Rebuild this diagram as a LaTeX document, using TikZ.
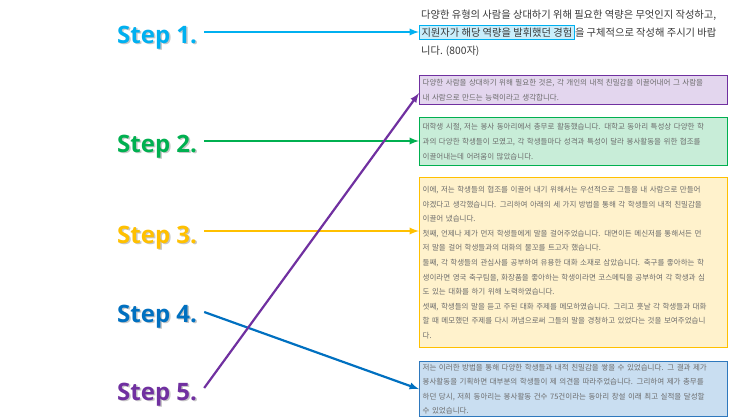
\documentclass[tikz,border=0pt]{standalone}
\usepackage{fontspec}
\usepackage{tikz}
\usetikzlibrary{arrows,calc}
\newfontfamily\krfont{Noto Sans CJK KR}
\newfontfamily\stepfont{Open Sans}
\definecolor{stepcyan}{HTML}{00B0F0}
\definecolor{stepgreen}{HTML}{00B050}
\definecolor{stepgold}{HTML}{FFC000}
\definecolor{stepblue}{HTML}{0070C0}
\definecolor{steppurple}{HTML}{7030A0}
\definecolor{cyanfill}{HTML}{C9EEFB}
\definecolor{purplefill}{HTML}{E3D6EE}
\definecolor{greenfill}{HTML}{C8EDD8}
\definecolor{goldfill}{HTML}{FFF2CC}
\definecolor{bluefill}{HTML}{C9DEF1}
\definecolor{blueline}{HTML}{2E78BD}
\newcommand{\shadowed}[2]{\rlap{\hspace{1.5pt}\raisebox{-1.5pt}{\color{black!22}#2}}{\color{#1}#2}}
\newcommand{\fullline}[1]{\noindent\hbox to \hsize{#1}\par}
\newcommand{\lastline}[1]{\noindent#1\par}
\newlength\linewd
\settowidth{\linewd}{\krfont\fontsize{10}{12}\selectfont 다양한 유형의 사람을 상대하기 위해 필요한 역량은 무엇인지 작성하고,}
\pgfmathsetmacro\qsize{10*295/\linewd}

\begin{document}
\begin{tikzpicture}[x=1pt, y=-1pt,
  steplabel/.style = {anchor=base west, inner sep=0pt, font=\stepfont\bfseries\fontsize{24}{24}\selectfont},
  steparrow/.style = {-latex, line width=2.2pt},
  qtext/.style = {anchor=base west, inner sep=0pt, text=black!78, font=\krfont\fontsize{\qsize}{12}\selectfont},
  ansbox/.style = {draw, line width=1.3pt, anchor=north west, text width=302pt, inner xsep=3pt, inner ysep=0pt, align=left, text=black!58, font=\krfont\fontsize{7.5}{14.6}\selectfont}]
\useasboundingbox (0,0) rectangle (743,418);

\node[qtext] (qa) at (421,18) {다양한 유형의 사람을 상대하기 위해 필요한 역량은 무엇인지 작성하고,};
\node[qtext, draw=stepcyan, fill=cyanfill, line width=1pt, inner xsep=2pt, inner ysep=1.5pt, text height=9.5pt, text depth=2pt] (hl) at (419,36) {지원자가 해당 역량을 발휘했던 경험};
\node[qtext] (qb) at (hl.base east) {을 구체적으로 작성해 주시기 바랍};
\node[qtext] (qc) at (421,54) {니다. (800자)};

\node[ansbox, draw=steppurple, fill=purplefill, minimum height=29pt] (a1) at (419,75) {%
\fullline{다양한 사람을 상대하기 위해 필요한 것은, 각 개인의 내적 친밀감을 이끌어내어 그 사람을}
\lastline{내 사람으로 만드는 능력이라고 생각합니다.}};
\node[ansbox, draw=stepgreen, fill=greenfill, minimum height=48pt] (a2) at (419,117) {%
\fullline{대학생 시절, 저는 봉사 동아리에서 총무로 활동했습니다. 대학교 동아리 특성상 다양한 학}
\fullline{과의 다양한 학생들이 모였고, 각 학생들마다 성격과 특성이 달라 봉사활동을 위한 협조를}
\lastline{이끌어내는데 어려움이 많았습니다.}};
\node[ansbox, draw=stepgold, fill=goldfill, minimum height=170pt] (a3) at (419,177) {%
\fullline{이에, 저는 학생들의 협조를 이끌어 내기 위해서는 우선적으로 그들을 내 사람으로 만들어}
\fullline{야겠다고 생각했습니다. 그리하여 아래의 세 가지 방법을 통해 각 학생들의 내적 친밀감을}
\lastline{이끌어 냈습니다.}
\fullline{첫째, 언제나 제가 먼저 학생들에게 말을 걸어주었습니다. 대면이든 메신저를 통해서든 먼}
\lastline{저 말을 걸어 학생들과의 대화의 물꼬를 트고자 했습니다.}
\fullline{둘째, 각 학생들의 관심사를 공부하여 유용한 대화 소재로 삼았습니다. 축구를 좋아하는 학}
\fullline{생이라면 영국 축구팀을, 화장품을 좋아하는 학생이라면 코스메틱을 공부하여 각 학생과 심}
\lastline{도 있는 대화를 하기 위해 노력하였습니다.}
\fullline{셋째, 학생들의 말을 듣고 주된 대화 주제를 메모하였습니다. 그리고 훗날 각 학생들과 대화}
\fullline{할 때 메모했던 주제를 다시 꺼냄으로써 그들의 말을 경청하고 있었다는 것을 보여주었습니}
\lastline{다.}};
\node[ansbox, draw=blueline, fill=bluefill, minimum height=55pt] (a4) at (419,361) {%
\fullline{저는 이러한 방법을 통해 다양한 학생들과 내적 친밀감을 쌓을 수 있었습니다. 그 결과 제가}
\fullline{봉사활동을 기획하면 대부분의 학생들이 제 의견을 따라주었습니다. 그리하여 제가 총무를}
\fullline{하던 당시, 저희 동아리는 봉사활동 건수 75건이라는 동아리 창설 이래 최고 실적을 달성할}
\lastline{수 있었습니다.}};

\node[steplabel] (s1) at (117,43) {\shadowed{stepcyan}{Step 1.}};
\node[steplabel] (s2) at (117,152) {\shadowed{stepgreen}{Step 2.}};
\node[steplabel] (s3) at (117,243) {\shadowed{stepgold}{Step 3.}};
\node[steplabel] (s4) at (117,322) {\shadowed{stepblue}{Step 4.}};
\node[steplabel] (s5) at (117,400) {\shadowed{steppurple}{Step 5.}};

\coordinate (t1) at ([xshift=7pt,yshift=11pt]s1.base east);
\coordinate (t2) at ([xshift=7pt,yshift=11pt]s2.base east);
\coordinate (t3) at ([xshift=7pt,yshift=12pt]s3.base east);
\coordinate (t4) at ([xshift=7pt,yshift=10pt]s4.base east);
\coordinate (t5) at ([xshift=7pt,yshift=12pt]s5.base east);

\draw[steparrow, stepcyan] (t1) -- (t1 -| hl.west);
\draw[steparrow, stepgreen] (t2) -- (t2 -| a2.west);
\draw[steparrow, stepgold] (t3) -- (t3 -| a3.west);
\draw[steparrow, stepblue] (t4) -- (a4.west);
\draw[steparrow, steppurple] (t5) -- ([yshift=-3pt]a1.west);

\end{tikzpicture}
\end{document}
